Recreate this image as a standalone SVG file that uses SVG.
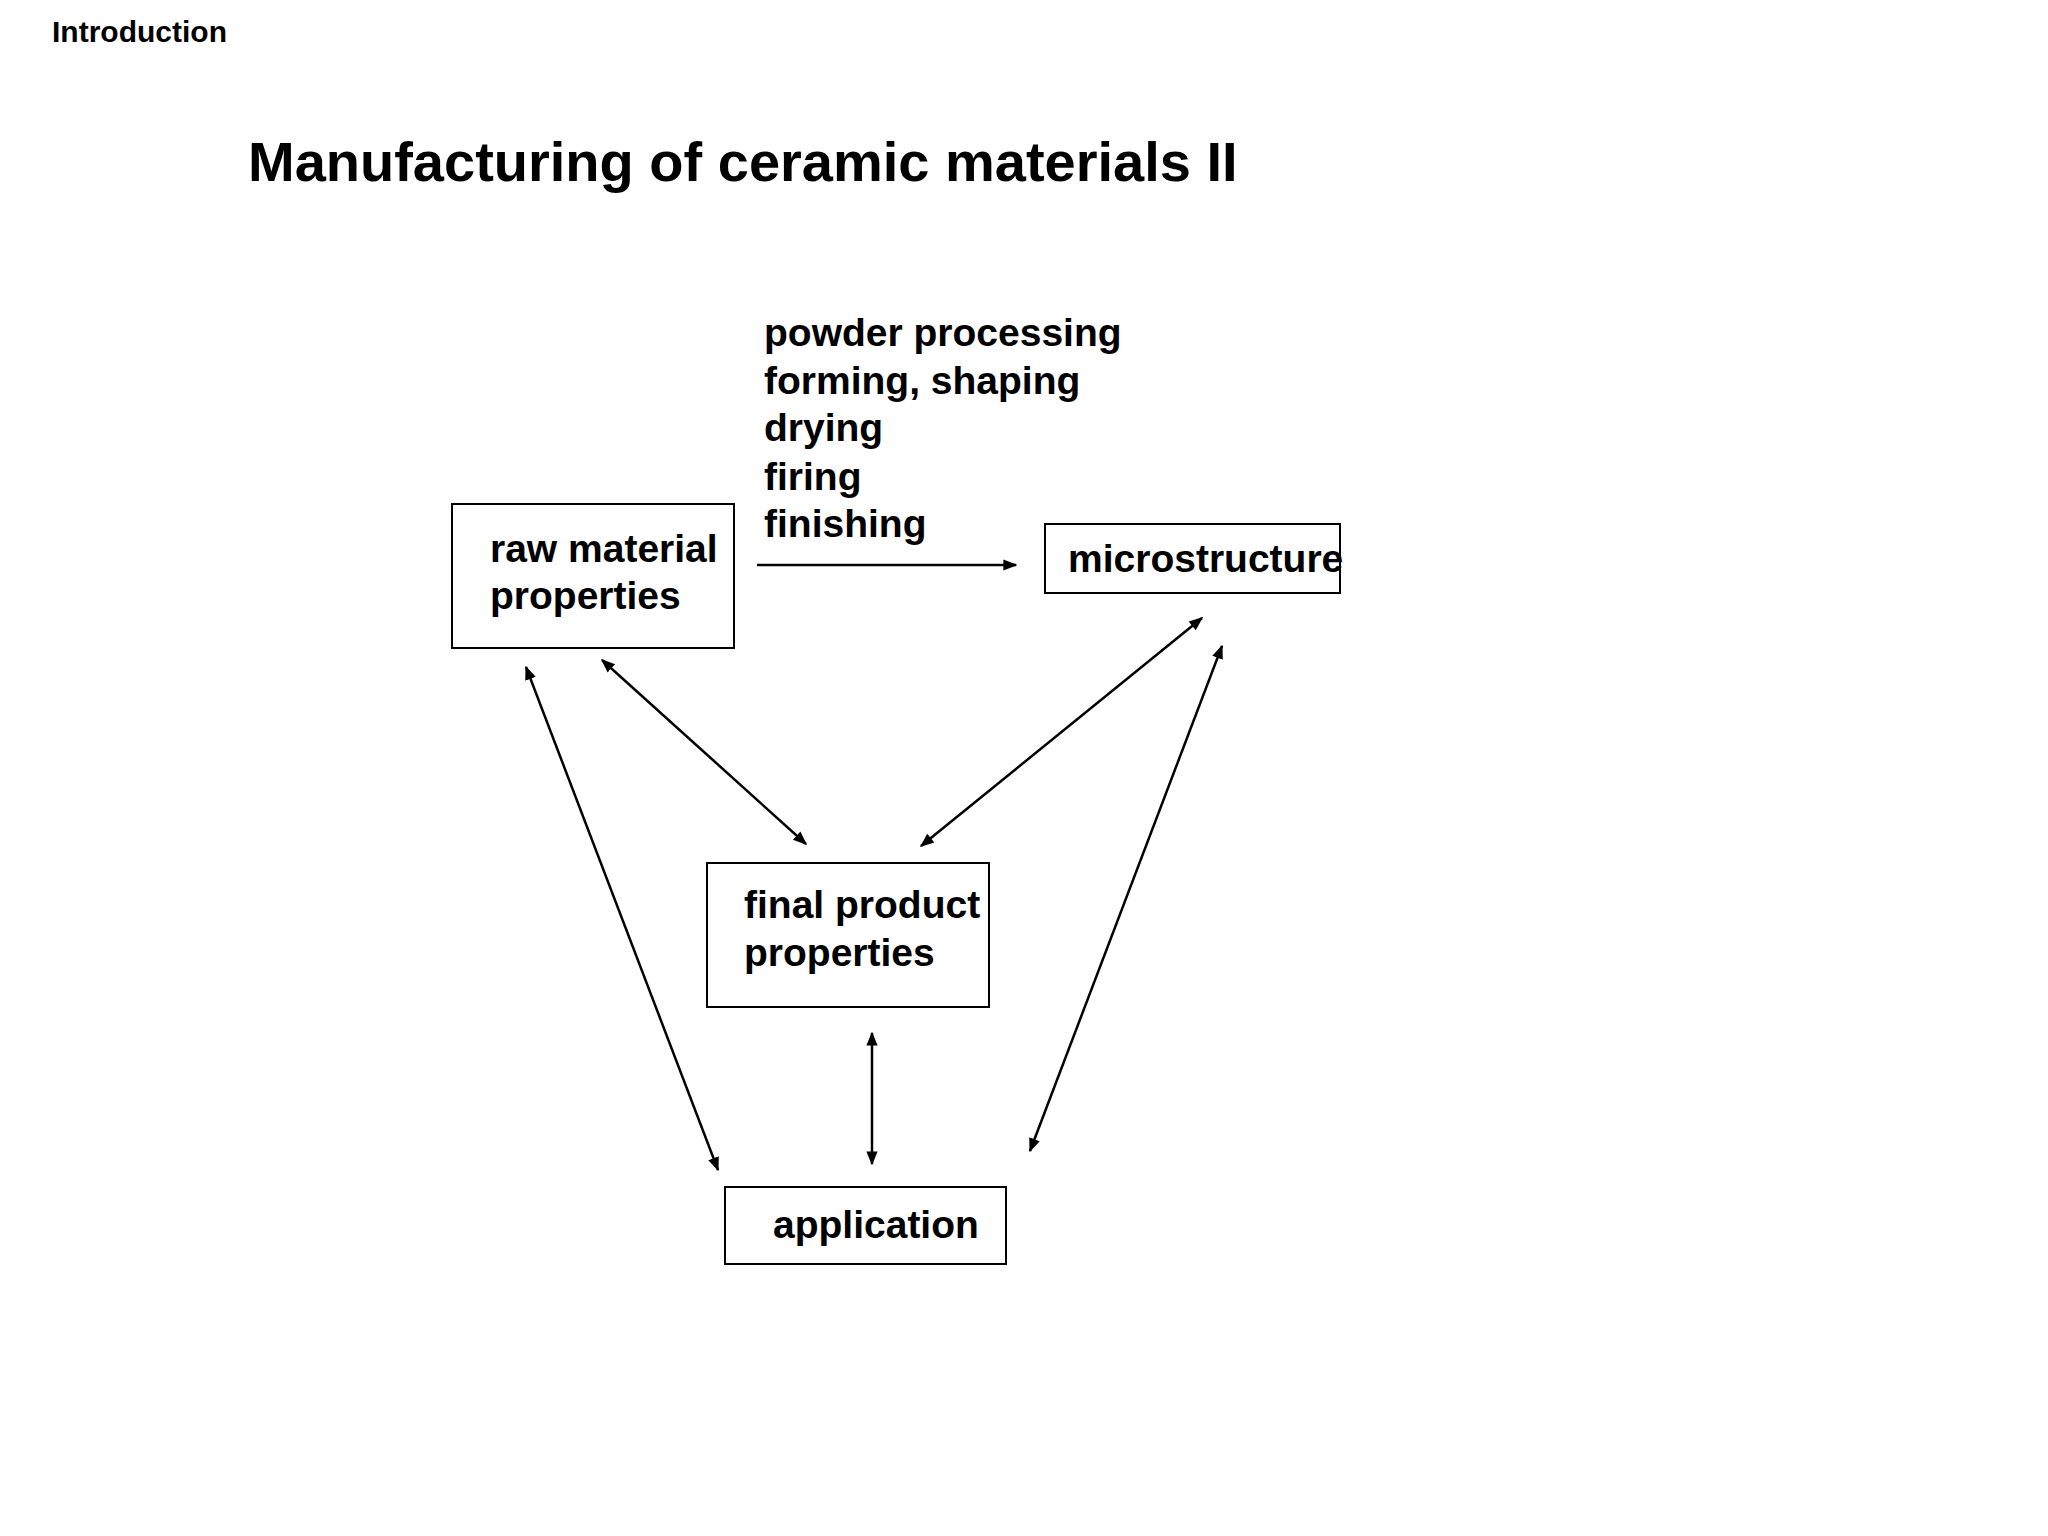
<svg xmlns="http://www.w3.org/2000/svg" width="2048" height="1536" viewBox="0 0 2048 1536">
<style>
text{font-family:"Liberation Sans","DejaVu Sans",sans-serif;font-weight:bold;fill:#000}
.t{font-size:39px}
.box{fill:none;stroke:#000;stroke-width:2}
.c line{stroke:#000;stroke-width:2.5}
</style>
<defs>
<marker id="a" viewBox="0 0 10 10" refX="9" refY="5" markerWidth="7" markerHeight="7" markerUnits="userSpaceOnUse" orient="auto-start-reverse"><path d="M0,0L10,5L0,10z" fill="#000"/></marker>
<marker id="b" viewBox="0 0 10 10" refX="9" refY="5" markerWidth="14" markerHeight="14" markerUnits="userSpaceOnUse" orient="auto-start-reverse"><path d="M0,1L10,5L0,9z" fill="#000"/></marker>
</defs>
<rect width="2048" height="1536" fill="#fff"/>
<text x="52" y="42" font-size="30">Introduction</text>
<text x="248" y="181" font-size="56">Manufacturing of ceramic materials II</text>
<g id="process-labels" class="t">
<text x="764" y="346">powder processing</text>
<text x="764" y="394">forming, shaping</text>
<text x="764" y="441">drying</text>
<text x="764" y="490">firing</text>
<text x="764" y="537">finishing</text>
</g>
<g id="raw"><rect class="box" x="452" y="504" width="282" height="144"/><text class="t" x="490" y="562">raw material</text><text class="t" x="490" y="609">properties</text></g>
<g id="micro"><rect class="box" x="1045" y="524" width="295" height="69"/><text class="t" x="1068" y="572">microstructure</text></g>
<g id="final"><rect class="box" x="707" y="863" width="282" height="144"/><text class="t" x="744" y="918">final product</text><text class="t" x="744" y="966">properties</text></g>
<g id="app"><rect class="box" x="725" y="1187" width="281" height="77"/><text class="t" x="773" y="1238">application</text></g>
<g id="connectors" class="c">
<line x1="757" y1="565" x2="1016" y2="565" marker-end="url(#b)"/>
<line x1="526" y1="667" x2="718" y2="1170" marker-start="url(#b)" marker-end="url(#b)"/>
<line x1="602" y1="660" x2="806" y2="844" marker-start="url(#b)" marker-end="url(#b)"/>
<line x1="1202" y1="618" x2="921" y2="846" marker-start="url(#b)" marker-end="url(#b)"/>
<line x1="1222" y1="646" x2="1030" y2="1151" marker-start="url(#b)" marker-end="url(#b)"/>
<line x1="872" y1="1033" x2="872" y2="1164" marker-start="url(#b)" marker-end="url(#b)"/>
</g>
</svg>
